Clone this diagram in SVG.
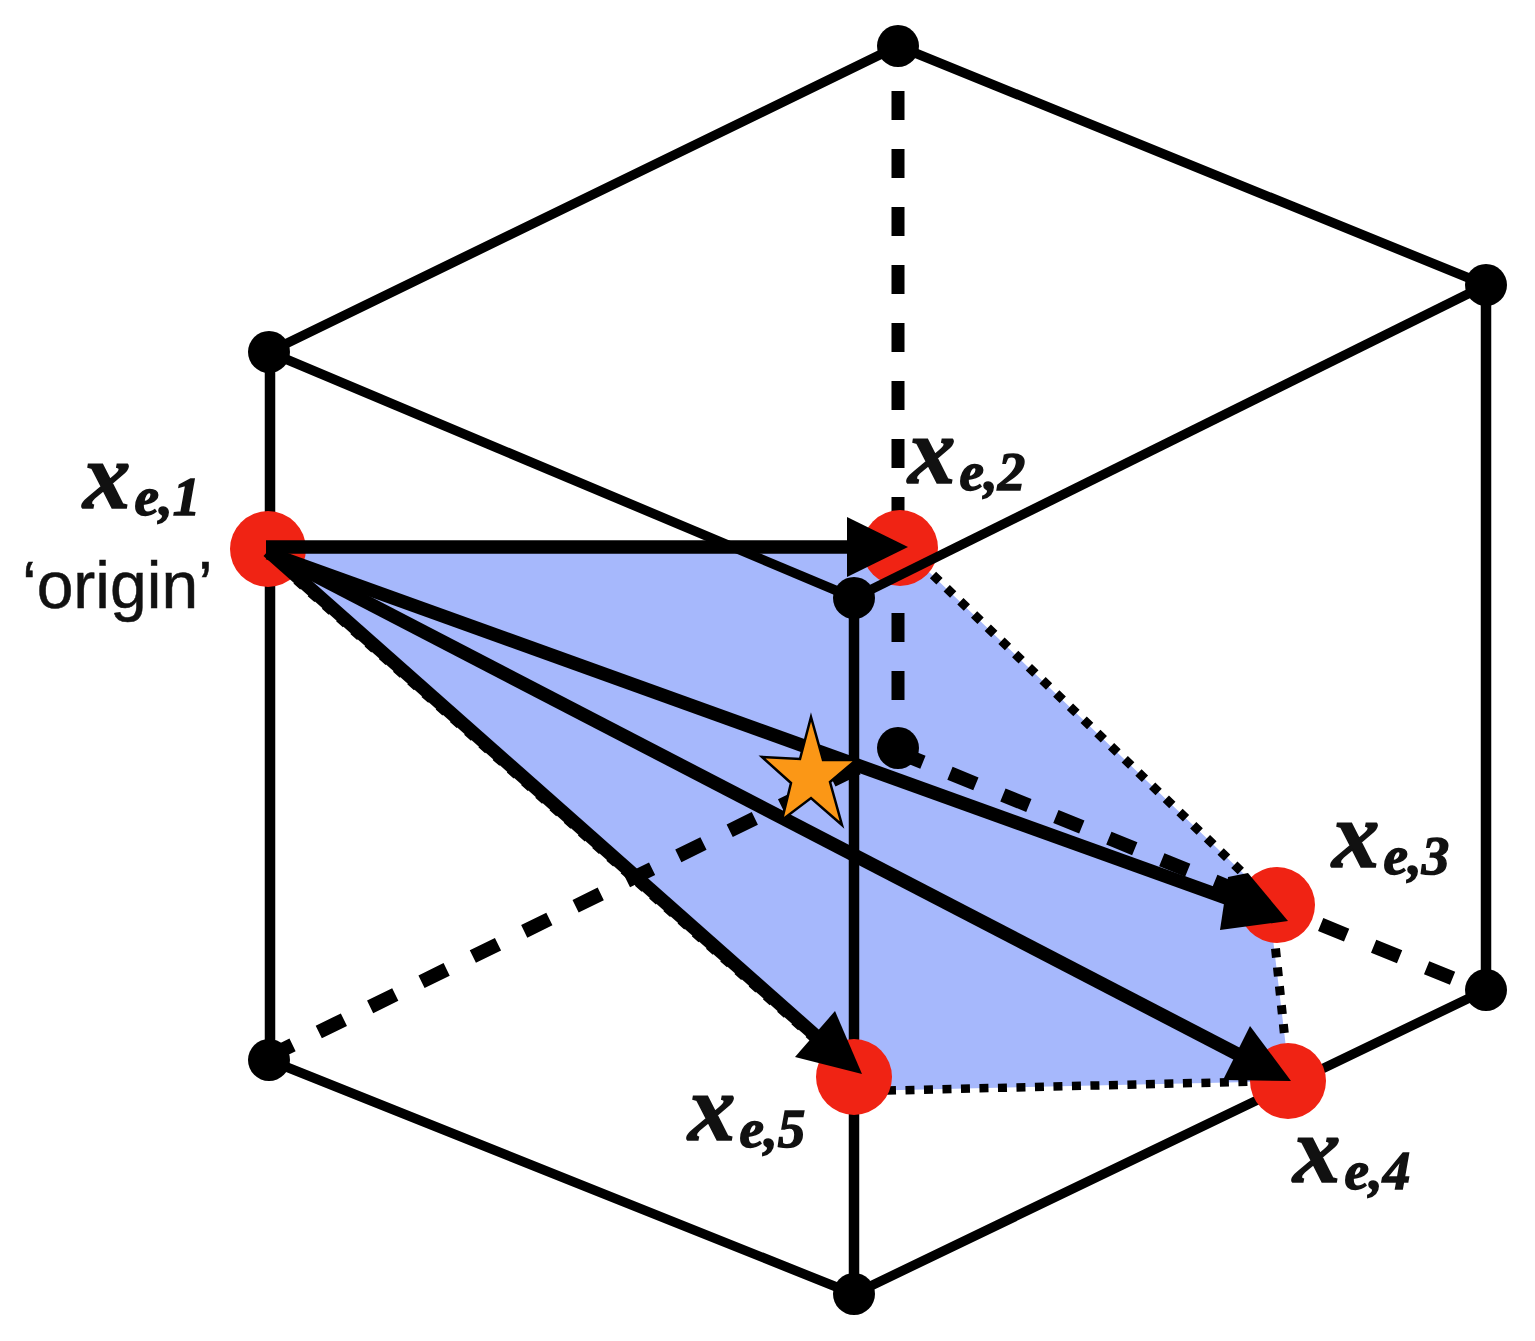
<svg xmlns="http://www.w3.org/2000/svg" width="1535" height="1341" viewBox="0 0 1535 1341">
<style>
.edge{fill:none;stroke:#000;stroke-width:9.5}
.v{stroke-width:10.5}
.dash{fill:none;stroke:#000;stroke-width:13;stroke-dasharray:29 29}
.dash2{fill:none;stroke:#000;stroke-width:14;stroke-dasharray:28 29.2}
.dot{fill:none;stroke:#000;stroke-width:9;stroke-dasharray:9 10}
.dotb{fill:none;stroke:#000;stroke-width:8.5;stroke-dasharray:9 9.5}
.shaft{fill:none;stroke:#000;stroke-width:13.5}
.head{fill:#000}
.red{fill:#f02314}
.blk{fill:#000}
.lab{font-family:"Liberation Serif",serif;font-weight:bold;font-style:italic;fill:#111;stroke:#111;stroke-width:1.5}
.x{font-size:95px}
.sub{font-size:55px}
.org{font-family:"Liberation Sans",Arial,sans-serif;font-size:66px;fill:#111;stroke:#111;stroke-width:.5}
</style>
<polygon id="face" points="268,549 905,549 1268,897 1290,1081 858,1091 840,1060" fill="#a6b8fc"/>
<g id="connectors-back">
<line class="dash" x1="898" y1="91" x2="898" y2="748"/>
<line class="dash2" x1="897" y1="751.7" x2="1486" y2="992"/>
<line class="dash2" x1="267.4" y1="1057.2" x2="898" y2="748.2"/>
<line class="dot" x1="933" y1="575" x2="1244" y2="874"/>
<line class="dot" x1="1275.5" y1="948.5" x2="1285" y2="1040"/>
<line class="dotb" x1="850" y1="1091.5" x2="1250" y2="1081.7"/>
<line class="dot" x1="268" y1="555" x2="826" y2="1049"/>
<path class="edge" d="M269 352L898 46L1486 285"/>
<path class="edge" d="M269 352L854 598"/>
<path class="edge" d="M269 1060L854 1294L1486 990"/>
<line class="edge v" x1="270" y1="352" x2="270" y2="1060"/>
<line class="edge v" x1="1486" y1="285" x2="1486" y2="990"/>
<line class="edge v" x1="854" y1="598" x2="854" y2="1294"/>
</g>
<g id="node-e1"><circle class="red" cx="268" cy="549" r="38"/></g>
<g id="node-e2"><circle class="red" cx="900" cy="548" r="38"/></g>
<g id="node-e3"><circle class="red" cx="1277" cy="905" r="38"/></g>
<g id="node-e4"><circle class="red" cx="1288" cy="1081" r="38"/></g>
<g id="node-e5"><circle class="red" cx="854" cy="1077" r="38"/></g>
<g id="connectors-front">
<line class="edge" x1="854" y1="598" x2="1486" y2="285"/>
<line class="shaft" x1="266" y1="547" x2="860" y2="547"/>
<polygon class="head" points="908,547 847,517 847,577"/>
<line class="shaft" x1="268" y1="553" x2="1240" y2="903"/>
<polygon class="head" points="1288,921 1220,930 1228,877 1248,873"/>
<line class="shaft" x1="268" y1="551" x2="1245" y2="1058"/>
<polygon class="head" points="1291,1081 1223,1080 1250,1026"/>
<line class="shaft" x1="268" y1="551" x2="825" y2="1044"/>
<polygon class="head" points="862,1074 795,1057 835,1011"/>
</g>
<g id="node-top"><circle class="blk" cx="898" cy="46" r="21"/></g>
<g id="node-left-top"><circle class="blk" cx="269" cy="352" r="21"/></g>
<g id="node-right-top"><circle class="blk" cx="1486" cy="285" r="21"/></g>
<g id="node-center"><circle class="blk" cx="854" cy="598" r="21"/></g>
<g id="node-back"><circle class="blk" cx="898" cy="748" r="21"/></g>
<g id="node-right-bottom"><circle class="blk" cx="1486" cy="990" r="21"/></g>
<g id="node-left-bottom"><circle class="blk" cx="269" cy="1060" r="21"/></g>
<g id="node-bottom"><circle class="blk" cx="854" cy="1294" r="21"/></g>
<g id="star"><polygon points="811,717 823,760 856,760 830,782 842,825 811,798 782,820 791,783 762,757 800,759" fill="#fb9716" stroke="#000" stroke-width="2.5" stroke-miterlimit="10"/></g>
<g id="label-e1"><text class="lab" x="83" y="508"><tspan class="x">x</tspan><tspan class="sub" dx="4" dy="7">e,1</tspan></text><text class="org" x="22" y="608">‘origin’</text></g>
<g id="label-e2"><text class="lab" x="908" y="483"><tspan class="x">x</tspan><tspan class="sub" dx="4" dy="7">e,2</tspan></text></g>
<g id="label-e3"><text class="lab" x="1332" y="867"><tspan class="x">x</tspan><tspan class="sub" dx="4" dy="7">e,3</tspan></text></g>
<g id="label-e4"><text class="lab" x="1293" y="1182"><tspan class="x">x</tspan><tspan class="sub" dx="4" dy="7">e,4</tspan></text></g>
<g id="label-e5"><text class="lab" x="688" y="1140"><tspan class="x">x</tspan><tspan class="sub" dx="4" dy="7">e,5</tspan></text></g>
</svg>
